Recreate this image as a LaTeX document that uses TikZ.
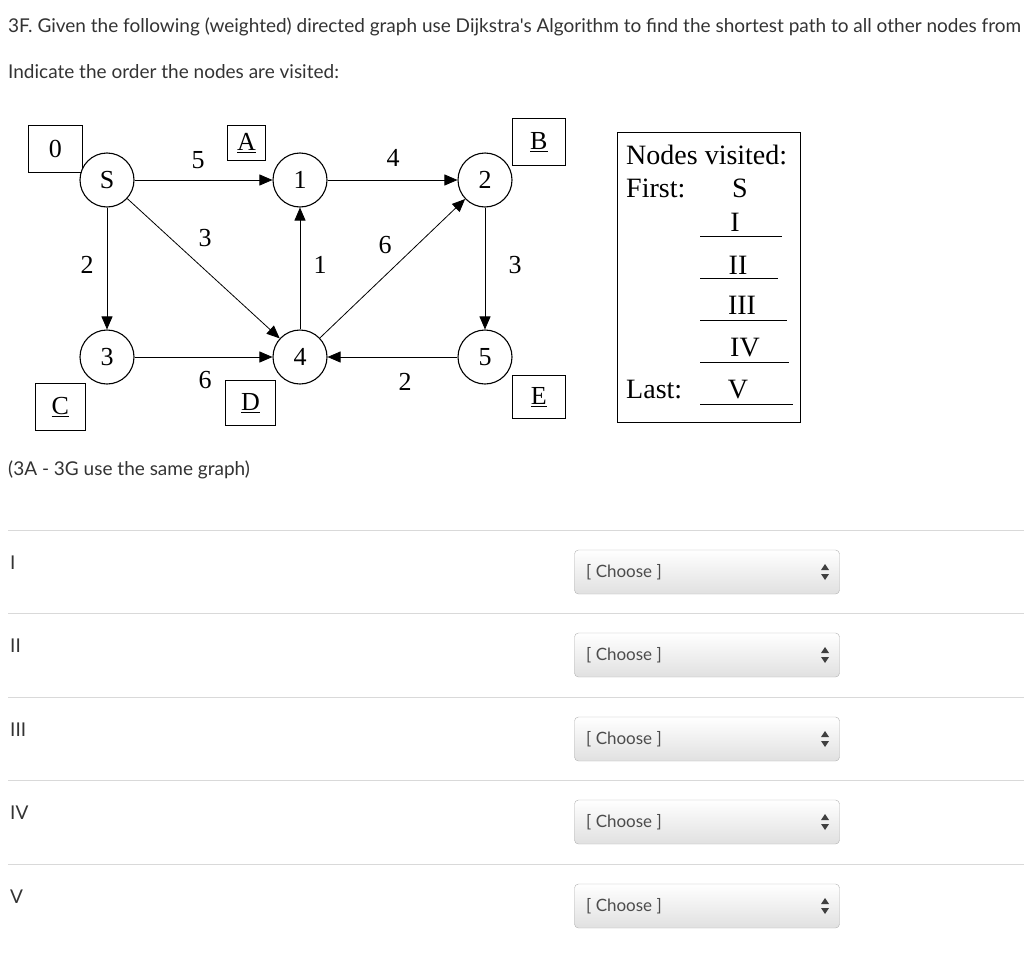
\documentclass[tikz,border=0pt]{standalone}
\usepackage{fontspec}
\setmainfont{Liberation Serif}
\newfontfamily\uifont{Lato}
\usetikzlibrary{arrows.meta}
\begin{document}
\begin{tikzpicture}[x=1pt,y=-1pt,
  vert/.style={circle,draw,line width=1.1pt,minimum size=54pt,inner sep=0pt,font=\fontsize{26}{26}\selectfont},
  lbox/.style={draw,line width=0.8pt,font=\fontsize{26}{26}\selectfont,anchor=north west,inner sep=0pt},
  wt/.style={font=\fontsize{26}{26}\selectfont},
  edge/.style={line width=0.8pt,-{Triangle[length=13pt,width=11pt]}},
  ui/.style={font=\uifont\fontsize{19}{19}\selectfont,text=black!80,anchor=west,inner sep=0pt},
  drop/.style={draw=black!30,rounded corners=4pt,top color=white,bottom color=black!12,minimum width=265pt,minimum height=44pt,inner sep=0pt},
  sep/.style={draw=black!15,line width=0.8pt}]
\useasboundingbox (0,0) rectangle (1024,958);
\begin{scope}
\clip (0,0) rectangle (1024,958);
\node[ui] (t1) at (8,27) {3F. Given the following (weighted) directed graph use Dijkstra's Algorithm to find the shortest path to all other nodes from};
\end{scope}
\node[ui] (t2) at (8,72) {Indicate the order the nodes are visited:};
\node[ui] (t3) at (8,470) {(3A - 3G use the same graph)};
% label boxes
\node[lbox,minimum width=54pt,minimum height=47pt] (b0) at (28,125) {0};
\node[lbox,minimum width=38pt,minimum height=35pt] (bA) at (227,125) {\underline{A}};
\node[lbox,minimum width=53pt,minimum height=47pt] (bB) at (512,118) {\underline{B}};
\node[lbox,minimum width=50pt,minimum height=47pt] (bC) at (35,383) {\underline{C}};
\node[lbox,minimum width=50pt,minimum height=45pt] (bD) at (225,380) {\underline{D}};
\node[lbox,minimum width=53pt,minimum height=43pt] (bE) at (512,375) {\underline{E}};
% vertices
\node[vert,fill=white] (S) at (107,180) {S};
\node[vert,fill=white] (n1) at (300,180) {1};
\node[vert,fill=white] (n2) at (485,180) {2};
\node[vert,fill=white] (n3) at (107,357) {3};
\node[vert,fill=white] (n4) at (300,357) {4};
\node[vert,fill=white] (n5) at (485,357) {5};
\draw[edge] (S) -- (n1);
\draw[edge] (n1) -- (n2);
\draw[edge] (S) -- (n3);
\draw[edge] (S) -- (n4);
\draw[edge] (n4) -- (n1);
\draw[edge] (n4) -- (n2);
\draw[edge] (n2) -- (n5);
\draw[edge] (n3) -- (n4);
\draw[edge] (n5) -- (n4);
\node[wt] (w1) at (198,160) {5};
\node[wt] (w2) at (393,158) {4};
\node[wt] (w3) at (205,238) {3};
\node[wt] (w4) at (87,265) {2};
\node[wt] (w5) at (320,265) {1};
\node[wt] (w6) at (385,245) {6};
\node[wt] (w7) at (515,265) {3};
\node[wt] (w8) at (205,380) {6};
\node[wt] (w9) at (405,382) {2};
% nodes visited
\node[draw,line width=0.8pt,minimum width=183pt,minimum height=290pt,anchor=north west] (nv) at (617,132) {};
\begin{scope}[font=\fontsize{28}{28}\selectfont]
\node[anchor=west,inner sep=0pt] (h1) at (626,155) {Nodes visited:};
\node[anchor=west,inner sep=0pt] (h2) at (626,188) {First:};
\node (v0) at (740,188) {S};
\node (v1) at (735,222) {I};
\node (v2) at (738,265) {II};
\node (v3) at (742,305) {III};
\node (v4) at (745,348) {IV};
\node[anchor=west,inner sep=0pt] (h3) at (626,390) {Last:};
\node (v5) at (738,390) {V};
\end{scope}
\draw[line width=0.7pt] (700,236) -- (782,236);
\draw[line width=0.7pt] (700,278) -- (778,278);
\draw[line width=0.7pt] (700,320) -- (787,320);
\draw[line width=0.7pt] (700,362) -- (789,362);
\draw[line width=0.7pt] (700,404) -- (793,404);
% answer rows
\foreach \y/\lab [count=\i] in {530/I,613/II,697/III,780/IV,864/V}{
  \draw[sep] (8,\y) -- (1024,\y);
  \node[ui] (r\i) at (10,\y+33) {\lab};
  \node[drop] (d\i) at (707,\y+42) {};
  \node[ui,font=\uifont\fontsize{17}{17}\selectfont,text=black!70] (c\i) at (586,\y+42) {[ Choose ]};
  \fill[black!75] (821,\y+40) -- (829,\y+40) -- (825,\y+34) -- cycle;
  \fill[black!75] (821,\y+44) -- (829,\y+44) -- (825,\y+50) -- cycle;
}
\end{tikzpicture}
\end{document}
